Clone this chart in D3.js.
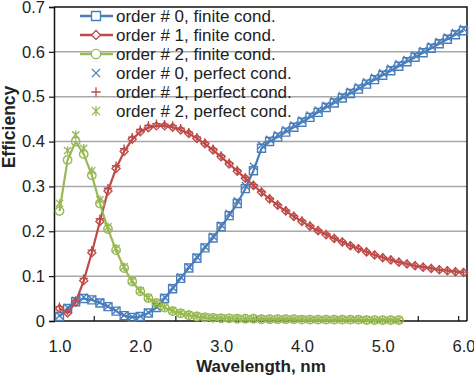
<!DOCTYPE html>
<html>
<head>
<meta charset="utf-8">
<script src="https://cdn.jsdelivr.net/npm/d3@7"></script>
<style>
  html, body { margin: 0; padding: 0; background: #fff; }
  svg { display: block; font-family: "Liberation Sans", Arial, sans-serif; }
</style>
</head>
<body>
<div id="chart"></div>
<script>
// wavelength grid (nm)
const wavelength = [1.0,1.1,1.2,1.3,1.4,1.5,1.6,1.7,1.8,1.9,2.0,2.1,2.2,2.3,2.4,2.5,2.6,2.7,2.8,2.9,
  3.0,3.1,3.2,3.3,3.4,3.5,3.6,3.7,3.8,3.9,4.0,4.1,4.2,4.3,4.4,4.5,4.6,4.7,4.8,4.9,
  5.0,5.1,5.2,5.3,5.4,5.5,5.6,5.7,5.8,5.9,6.0];

// finite conductivity
const order0Finite = [0.010,0.028,0.043,0.050,0.047,0.040,0.032,0.022,0.012,0.008,0.010,0.018,0.030,0.050,0.072,0.095,0.118,0.140,0.163,0.185,
  0.210,0.235,0.262,0.295,0.335,0.385,0.400,0.410,0.421,0.432,0.443,0.454,0.465,0.476,0.486,0.497,0.507,0.517,0.528,0.538,
  0.548,0.558,0.568,0.578,0.588,0.598,0.608,0.618,0.628,0.638,0.647];
const order1Finite = [0.028,0.018,0.042,0.090,0.152,0.222,0.290,0.340,0.378,0.405,0.422,0.431,0.435,0.435,0.432,0.426,0.418,0.407,0.395,0.381,
  0.366,0.350,0.334,0.318,0.302,0.287,0.272,0.258,0.245,0.233,0.222,0.211,0.201,0.192,0.184,0.176,0.168,0.161,0.154,0.147,
  0.141,0.136,0.131,0.127,0.123,0.120,0.117,0.114,0.112,0.110,0.108];
const order2Finite = [0.245,0.359,0.400,0.372,0.325,0.262,0.205,0.158,0.118,0.088,0.066,0.051,0.040,0.030,0.022,0.017,0.013,0.010,0.008,0.007,
  0.006,0.006,0.005,0.005,0.005,0.004,0.004,0.004,0.004,0.004,0.003,0.003,0.003,0.003,0.003,0.003,0.003,0.003,0.002,0.002,
  0.002,0.002,0.002];

// perfect conductivity
const order0Perfect = [0.012,0.030,0.046,0.053,0.049,0.042,0.033,0.023,0.013,0.009,0.011,0.019,0.032,0.053,0.075,0.098,0.121,0.143,0.166,0.189,
  0.214,0.240,0.268,0.302,0.345,0.392,0.405,0.415,0.426,0.437,0.448,0.459,0.470,0.481,0.491,0.502,0.512,0.522,0.533,0.543,
  0.553,0.563,0.573,0.583,0.593,0.603,0.613,0.623,0.633,0.643,0.652];
const order1Perfect = [0.032,0.022,0.046,0.095,0.158,0.228,0.296,0.346,0.384,0.410,0.427,0.436,0.440,0.439,0.436,0.430,0.421,0.410,0.398,0.384,
  0.369,0.353,0.337,0.320,0.304,0.289,0.274,0.260,0.247,0.235,0.224,0.213,0.203,0.194,0.185,0.177,0.169,0.162,0.155,0.148,
  0.142,0.137,0.132,0.128,0.124,0.121,0.118,0.115,0.113,0.111,0.109];
const order2Perfect = [0.262,0.380,0.415,0.385,0.335,0.270,0.210,0.162,0.121,0.090,0.068,0.052,0.041,0.031,0.023,0.018,0.014,0.011,0.009,0.008,
  0.007,0.006,0.006,0.005,0.005,0.005,0.004,0.004,0.004,0.004,0.004,0.003,0.003,0.003,0.003,0.003,0.003,0.003,0.003,0.002,
  0.002,0.002,0.002];

const yTicks = [0, 0.1, 0.2, 0.3, 0.4, 0.5, 0.6, 0.7];
const xTicks = [1.0, 2.0, 3.0, 4.0, 5.0, 6.0];
const xTickMarks = [1.43, 2.44, 3.44, 4.44, 5.44, 5.94];

const seriesNames = ['order # 0, finite cond.', 'order # 1, finite cond.', 'order # 2, finite cond.',
  'order # 0, perfect cond.', 'order # 1, perfect cond.', 'order # 2, perfect cond.'];

const width = 474, height = 378;
const plotLeft = 54, plotRight = 467, plotTop = 7, plotBottom = 321;

const svg = d3.select('#chart').append('svg')
  .attr('width', width)
  .attr('height', height);

const x = d3.scaleLinear().domain([0.932, 6.043]).range([plotLeft, plotRight]);
const y = d3.scaleLinear().domain([0, 0.7]).range([plotBottom, plotTop]);

// gridlines
svg.append('g')
  .selectAll('line')
  .data(yTicks.filter(v => v > 0 && v < 0.7))
  .enter().append('line')
  .attr('x1', plotLeft).attr('x2', plotRight)
  .attr('y1', d => y(d)).attr('y2', d => y(d))
  .style('stroke', '#a8a8a8')
  .style('stroke-width', 1.5);

// plot border (top and right)
svg.append('path')
  .attr('d', `M${plotLeft},${plotTop}H${plotRight}V${plotBottom}`)
  .style('fill', 'none')
  .style('stroke', '#111')
  .style('stroke-width', 1.5);

// y axis
const yAxis = d3.axisLeft(y).tickValues(yTicks).tickSize(5).tickPadding(4)
  .tickFormat(d => d === 0 ? '0' : d3.format('.1f')(d));
const gy = svg.append('g').attr('transform', `translate(${plotLeft},0)`).call(yAxis);
gy.select('.domain').style('stroke', '#111').style('stroke-width', 1.5);
gy.selectAll('.tick line').style('stroke', '#111').style('stroke-width', 1.2);
gy.selectAll('.tick text').style('font-size', '16.5px').style('fill', '#222')
  .attr('font-family', '"Liberation Sans", Arial, sans-serif');

// x axis
const xAxis = d3.axisBottom(x).tickValues(xTicks).tickSize(0).tickPadding(19)
  .tickFormat(d3.format('.1f'));
const gx = svg.append('g').attr('transform', `translate(0,${plotBottom})`).call(xAxis);
gx.select('.domain').attr('d', `M${plotLeft},0H${plotRight}`).style('stroke', '#111').style('stroke-width', 1.5);
gx.selectAll('.tick text').style('font-size', '16.5px').style('fill', '#222')
  .attr('font-family', '"Liberation Sans", Arial, sans-serif');

svg.append('g')
  .selectAll('line')
  .data(xTickMarks)
  .enter().append('line')
  .attr('x1', d => x(d)).attr('x2', d => x(d))
  .attr('y1', plotBottom).attr('y2', plotBottom - 5)
  .style('stroke', '#111')
  .style('stroke-width', 1.2);

// axis titles
svg.append('text')
  .attr('x', 261).attr('y', 372)
  .attr('text-anchor', 'middle')
  .style('font-weight', 'bold')
  .style('font-size', '17px')
  .style('fill', '#222')
  .text('Wavelength, nm');

svg.append('text')
  .attr('transform', 'translate(15,127) rotate(-90)')
  .attr('text-anchor', 'middle')
  .style('font-weight', 'bold')
  .style('font-size', '17.5px')
  .style('fill', '#222')
  .text('Efficiency');

// marker shapes
const markerPath = {
  square: s => `M${-s},${-s}H${s}V${s}H${-s}Z`,
  diamond: s => `M0,${-s}L${s},0L0,${s}L${-s},0Z`,
  circle: s => `M${s},0A${s},${s} 0 1,1 ${-s},0A${s},${s} 0 1,1 ${s},0Z`,
  cross: s => `M${-s},${-s}L${s},${s}M${-s},${s}L${s},${-s}`,
  plus: s => `M${-s},0H${s}M0,${-s}V${s}`,
  star: s => `M${-s},${-s}L${s},${s}M${-s},${s}L${s},${-s}M0,${-s * 1.2}V${s * 1.2}`
};

const finite = [
  { name: seriesNames[0], values: order0Finite, color: '#4A7EBB', marker: 'square', size: 4 },
  { name: seriesNames[1], values: order1Finite, color: '#BE4B48', marker: 'diamond', size: 4 },
  { name: seriesNames[2], values: order2Finite, color: '#98B954', marker: 'circle', size: 4.2 }
];
const perfect = [
  { name: seriesNames[3], values: order0Perfect, color: '#4A7EBB', marker: 'cross', size: 3.6 },
  { name: seriesNames[4], values: order1Perfect, color: '#BE4B48', marker: 'plus', size: 4.2 },
  { name: seriesNames[5], values: order2Perfect, color: '#98B954', marker: 'star', size: 3.6 }
];

const line = d3.line()
  .x((d, i) => x(wavelength[i]))
  .y(d => y(d));

const plot = svg.append('g');

finite.forEach(s => {
  const g = plot.append('g');
  g.append('path')
    .datum(s.values)
    .attr('d', line)
    .style('fill', 'none')
    .style('stroke', s.color)
    .style('stroke-width', 2.2);
  g.selectAll('path.m')
    .data(s.values)
    .enter().append('path')
    .attr('class', 'm')
    .attr('transform', (d, i) => `translate(${x(wavelength[i])},${y(d)})`)
    .attr('d', markerPath[s.marker](s.size))
    .style('fill', 'none')
    .style('stroke', s.color)
    .style('stroke-width', 1.4);
});

perfect.forEach(s => {
  plot.append('g')
    .selectAll('path')
    .data(s.values)
    .enter().append('path')
    .attr('transform', (d, i) => `translate(${x(wavelength[i])},${y(d)})`)
    .attr('d', markerPath[s.marker](s.size))
    .style('fill', 'none')
    .style('stroke', s.color)
    .style('stroke-width', 1.4);
});

// legend
const legend = svg.append('g');
const legendItems = finite.concat(perfect);
legendItems.forEach((s, i) => {
  const ly = 16 + i * 19;
  const row = legend.append('g');
  if (i < 3) {
    row.append('line')
      .attr('x1', 80).attr('x2', 113)
      .attr('y1', ly).attr('y2', ly)
      .style('stroke', s.color)
      .style('stroke-width', 2.5);
  }
  row.append('path')
    .attr('transform', `translate(96,${ly})`)
    .attr('d', markerPath[s.marker](s.size + 0.5))
    .style('fill', i < 3 ? '#fff' : 'none')
    .style('stroke', s.color)
    .style('stroke-width', 1.3);
  row.append('text')
    .attr('x', 116).attr('y', ly)
    .attr('dy', '0.35em')
    .style('font-size', '17px')
    .style('fill', '#222')
    .text(s.name);
});
</script>
</body>
</html>
